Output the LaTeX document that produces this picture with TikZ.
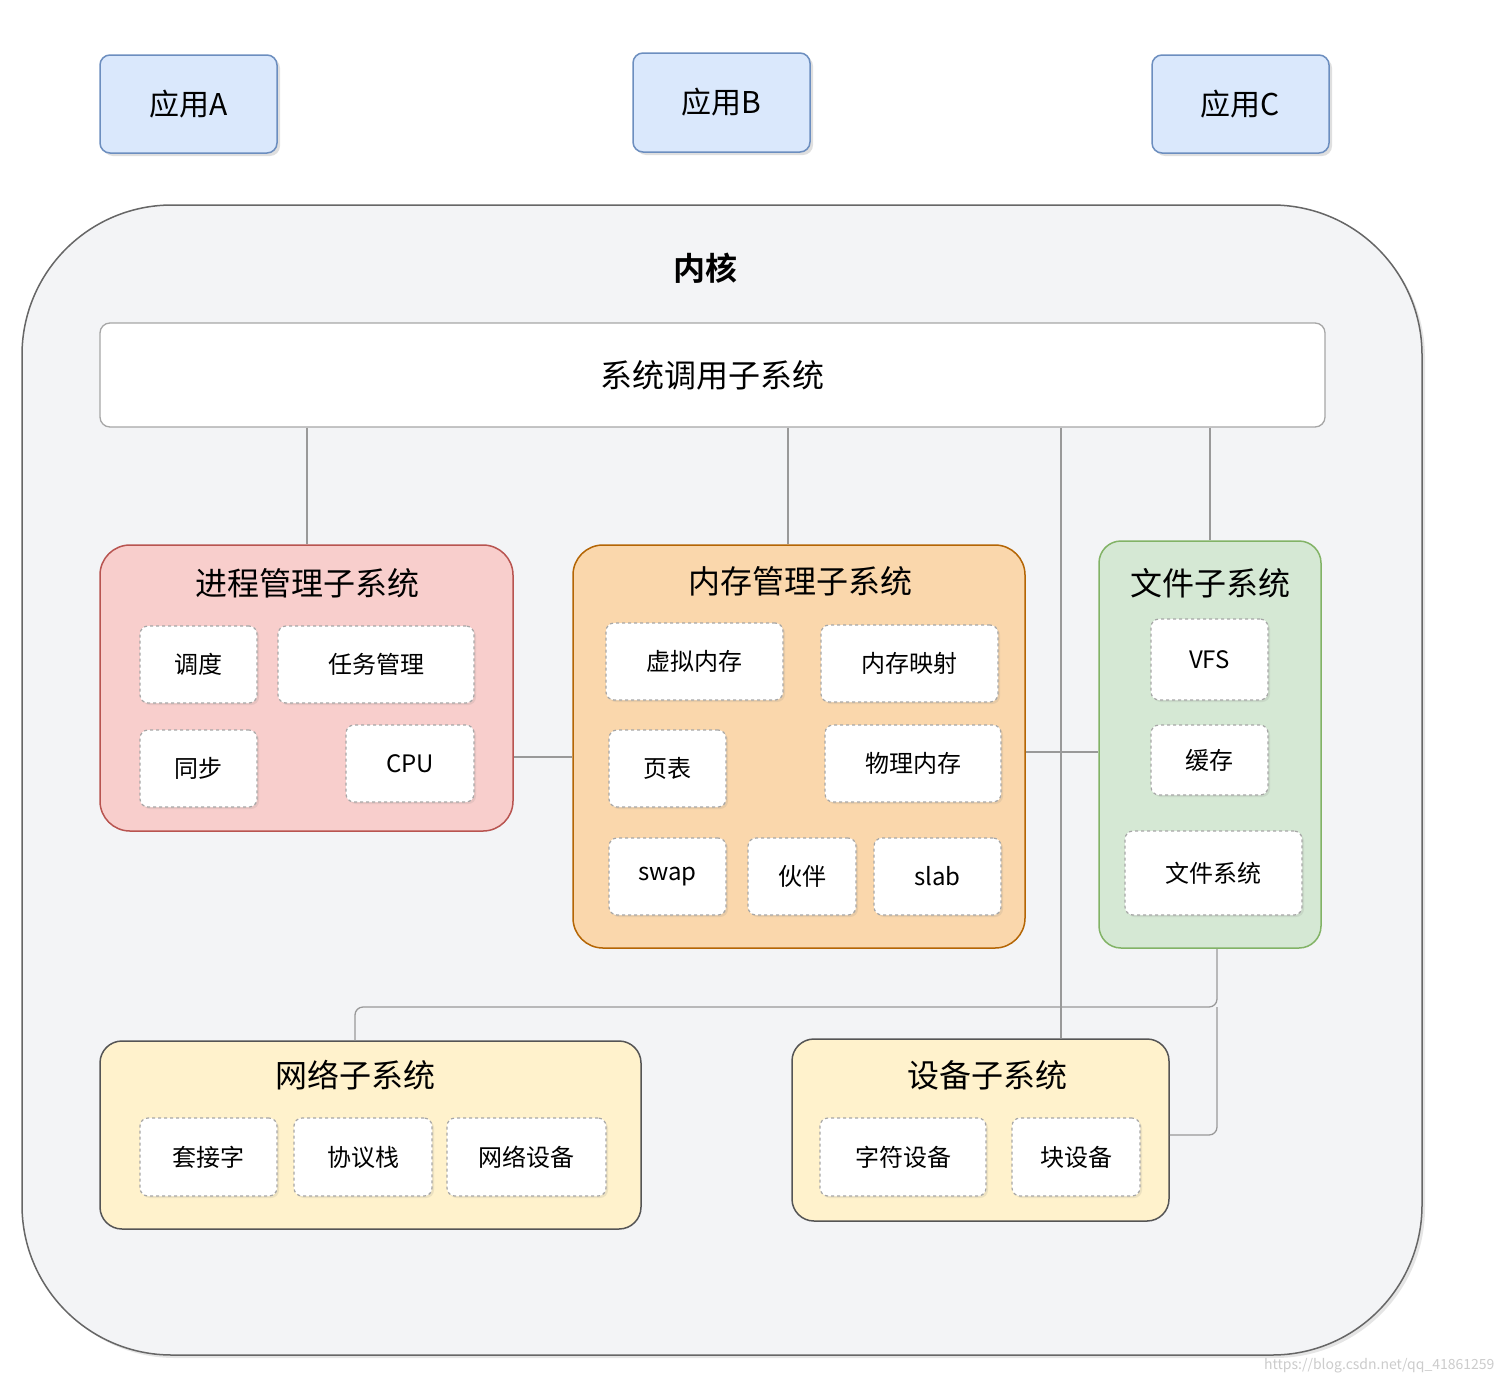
\documentclass[tikz,border=0pt]{standalone}
\usepackage{fontspec}
\setmainfont{Noto Sans CJK SC}
\newfontfamily\cjkb{Noto Sans CJK SC Bold}
\usetikzlibrary{shadows}
\definecolor{appf}{HTML}{DAE8FC}\definecolor{appd}{HTML}{6C8EBF}
\definecolor{kf}{HTML}{F3F4F6}\definecolor{kd}{HTML}{666666}
\definecolor{pf}{HTML}{F8CECC}\definecolor{pd}{HTML}{B85450}
\definecolor{mf}{HTML}{FAD7AC}\definecolor{md}{HTML}{B46504}
\definecolor{ff}{HTML}{D5E8D4}\definecolor{fd}{HTML}{82B366}
\definecolor{nf}{HTML}{FFF2CC}\definecolor{nd}{HTML}{555555}
\tikzset{
 app/.style={draw=appd,fill=appf,rounded corners=10pt,line width=1.5pt,drop shadow={opacity=0.25,shadow xshift=3pt,shadow yshift=-3pt},font=\fontsize{30}{34}\selectfont},
 sub/.style={rounded corners=30pt,line width=1.5pt},
 item/.style={draw=gray!70,dashed,fill=white,rounded corners=8pt,line width=1.2pt,drop shadow={opacity=0.15,shadow xshift=2pt,shadow yshift=-2pt},font=\fontsize{24}{28}\selectfont},
 ttl/.style={font=\fontsize{32}{36}\selectfont},
 wire/.style={draw=gray!80,line width=1.3pt}
}
\newcommand\bx[6]{\node[#1,minimum width=#4-#2,minimum height=#5-#3,inner sep=0pt] (#6) at ({(#2+#4)/2},{(#3+#5)/2}) {};}
\newcommand\itm[5]{\node[item,minimum width=#3-#1,minimum height=#4-#2,inner sep=0pt] at ({(#1+#3)/2},{(#2+#4)/2}) {#5};}
\begin{document}
\begin{tikzpicture}[x=1pt,y=-1pt]
\useasboundingbox (0,0) rectangle (1506,1384);
\fill[white] (0,0) rectangle (1506,1384);
% apps
\node[app,minimum width=177,minimum height=98] (A) at (188.5,104) {应用A};
\node[app,minimum width=177,minimum height=99] (B) at (721.5,102.5) {应用B};
\node[app,minimum width=177,minimum height=98] (C) at (1240.5,104) {应用C};
% kernel
\draw[kd,fill=kf,line width=1.5pt,rounded corners=150pt,drop shadow={opacity=0.2,shadow xshift=3pt,shadow yshift=-3pt}] (22,205) rectangle (1422,1355);
\node[font=\cjkb\fontsize{32}{36}\selectfont] at (705,268) {内核};
\node[draw=gray!70,fill=white,rounded corners=10pt,line width=1.3pt,minimum width=1225,minimum height=104,font=\fontsize{32}{36}\selectfont] (sys) at (712.5,375) {系统调用子系统};
% subsystems
\bx{sub,draw=pd,fill=pf}{100}{545}{513}{831}{proc}
\node[ttl] at (307,583) {进程管理子系统};
\bx{sub,draw=md,fill=mf}{573}{545}{1025}{948}{mem}
\node[ttl] at (800,581) {内存管理子系统};
\bx{sub,draw=fd,fill=ff,rounded corners=22pt}{1099}{541}{1321}{948}{fs}
\node[ttl] at (1210,583) {文件子系统};
\bx{sub,draw=nd,fill=nf,rounded corners=22pt}{100}{1041}{641}{1229}{net}
\node[ttl] at (355,1075) {网络子系统};
\bx{sub,draw=nd,fill=nf,rounded corners=22pt}{792}{1039}{1169}{1221}{dev}
\node[ttl] at (987,1075) {设备子系统};
% items
\itm{140}{626}{257}{703}{调度}
\itm{278}{626}{474}{703}{任务管理}
\itm{140}{730}{257}{807}{同步}
\itm{346}{725}{474}{802}{CPU}
\itm{606}{623}{783}{700}{虚拟内存}
\itm{821}{625}{998}{702}{内存映射}
\itm{609}{730}{726}{807}{页表}
\itm{825}{725}{1001}{802}{物理内存}
\itm{609}{838}{726}{915}{swap}
\itm{748}{838}{856}{915}{伙伴}
\itm{874}{838}{1001}{915}{slab}
\itm{1151}{619}{1268}{700}{VFS}
\itm{1151}{725}{1268}{795}{缓存}
\itm{1125}{831}{1302}{915}{文件系统}
\itm{140}{1118}{277}{1196}{套接字}
\itm{294}{1118}{432}{1196}{协议栈}
\itm{447}{1118}{606}{1196}{网络设备}
\itm{820}{1118}{986}{1196}{字符设备}
\itm{1012}{1118}{1140}{1196}{块设备}
% wires
\coordinate (x1) at (307,0);
\coordinate (x2) at (788,0);
\coordinate (x3) at (1061,0);
\coordinate (x4) at (1210,0);
\coordinate (x5) at (1217,0);
\coordinate (x6) at (355,0);
\coordinate (y1) at (0,757);
\coordinate (y2) at (0,752);
\coordinate (y3) at (0,1007);
\coordinate (y4) at (0,1135);
\draw[wire] (sys.south -| x1) -- (proc.north -| x1);
\draw[wire] (sys.south -| x2) -- (mem.north -| x2);
\draw[wire] (sys.south -| x3) -- (dev.north -| x3);
\draw[wire] (sys.south -| x4) -- (fs.north -| x4);
\draw[wire] (proc.east |- y1) -- (mem.west |- y1);
\draw[wire] (mem.east |- y2) -- (fs.west |- y2);
\draw[wire,rounded corners=8pt] (fs.south -| x5) -- (x5 |- y3) -- (x6 |- y3) -- (net.north -| x6);
\draw[wire,rounded corners=8pt] (x5 |- y3) -- (x5 |- y4) -- (dev.east |- y4);
\node[text=gray!40,font=\fontsize{14}{16}\selectfont,anchor=east] at (1498,1366) {https://blog.csdn.net/qq\_41861259};
\end{tikzpicture}
\end{document}
